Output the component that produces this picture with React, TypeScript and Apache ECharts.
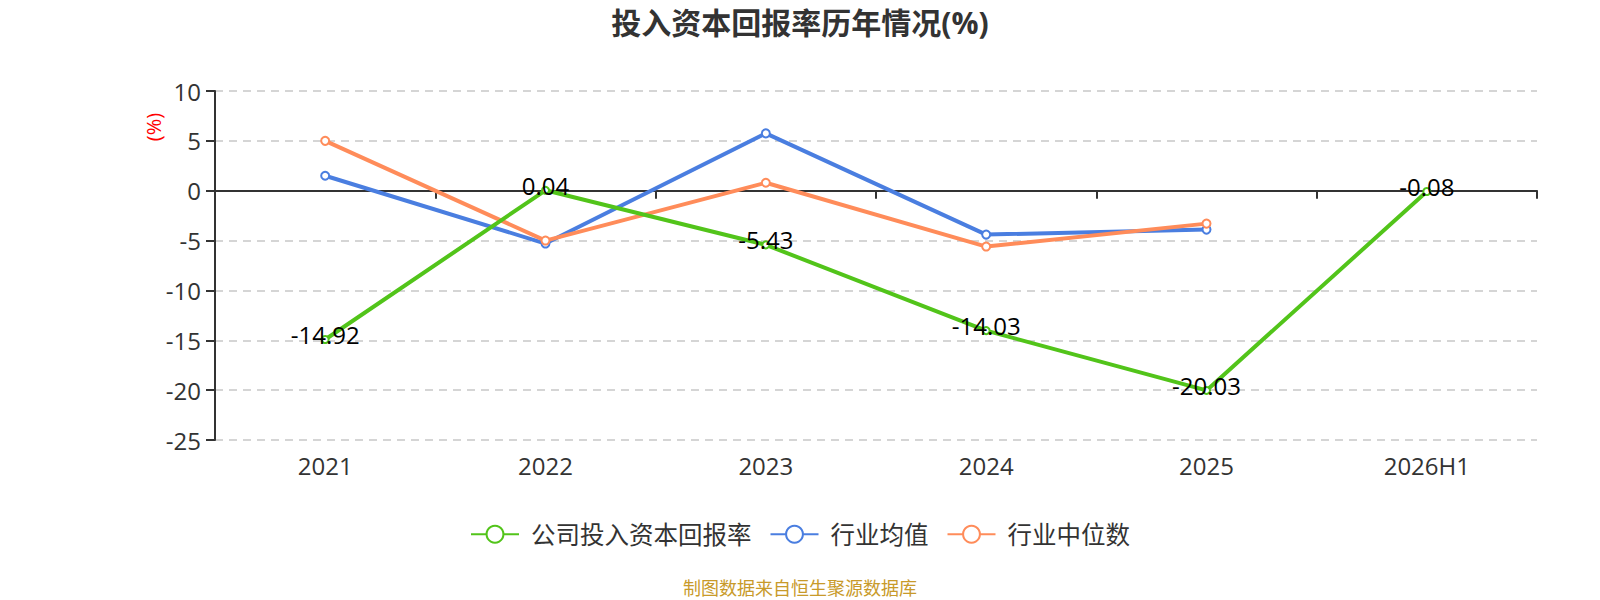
import React, { useEffect, useRef } from "react";
import * as echarts from "echarts";

const categories = ["2021", "2022", "2023", "2024", "2025", "2026H1"];
const companyValues = [-14.92, 0.04, -5.43, -14.03, -20.03, -0.08];
const industryAvg = [1.5, -5.3, 5.75, -4.4, -3.9, null];
const industryMedian = [5.0, -5.0, 0.8, -5.6, -3.3, null];
const seriesNames = ["公司投入资本回报率", "行业均值", "行业中位数"];
const titleText = "投入资本回报率历年情况(%)";
const footerText = "制图数据来自恒生聚源数据库";

const FONT = "'Open Sans', 'Noto Sans CJK SC', sans-serif";

export default function App() {
  const ref = useRef<HTMLDivElement>(null);
  useEffect(() => {
    if (!ref.current) return;
    document.body.style.margin = "0";
    const chart = echarts.init(ref.current, undefined, { renderer: "svg" });
    chart.setOption({
      animation: false,
      textStyle: { fontFamily: FONT },
      title: {
        text: titleText,
        left: "center",
        top: 2,
        textStyle: { fontSize: 30, fontWeight: "bold", color: "#333", fontFamily: FONT },
      },
      grid: { left: 215, right: 63, top: 91, bottom: 160 },
      legend: {
        top: 517,
        left: "center",
        itemWidth: 48,
        itemHeight: 21,
        itemGap: 18,
        textStyle: { fontSize: 24.5, color: "#333", fontFamily: FONT, padding: [0, 0, 0, 7] },
        data: seriesNames,
      },
      graphic: [
        {
          type: "text",
          left: "center",
          top: 579,
          style: { text: footerText, fill: "#c89a2a", font: `18px ${FONT}` },
        },
        {
          type: "text",
          x: 153,
          y: 127,
          rotation: Math.PI / 2,
          style: {
            text: "(%)",
            fill: "#ff0000",
            font: `20px ${FONT}`,
            align: "center",
            verticalAlign: "middle",
          },
        },
      ],
      xAxis: [
        {
          type: "category",
          data: categories,
          position: "bottom",
          axisLine: { onZero: true, lineStyle: { color: "#333", width: 2 } },
          axisTick: { show: true, length: 8, lineStyle: { color: "#333", width: 2 } },
          axisLabel: { show: false },
        },
        {
          type: "category",
          data: categories,
          position: "bottom",
          axisLine: { show: false, onZero: false },
          axisTick: { show: false },
          axisLabel: { fontSize: 24, color: "#333", margin: 13, fontFamily: FONT },
        },
      ],
      yAxis: {
        type: "value",
        min: -25,
        max: 10,
        interval: 5,
        axisLine: { show: true, lineStyle: { color: "#333", width: 2 } },
        axisTick: { show: true, length: 9, lineStyle: { color: "#333", width: 2 } },
        axisLabel: { fontSize: 24, color: "#333", margin: 14, fontFamily: FONT },
        splitLine: { show: true, lineStyle: { type: [8, 6], color: "#c8c8c8", width: 1.5 } },
      },
      series: [
        {
          name: seriesNames[0],
          type: "line",
          data: companyValues,
          color: "#52c41a",
          lineStyle: { width: 4 },
          symbol: "emptyCircle",
          symbolSize: 7,
          label: {
            show: true,
            position: "inside",
            offset: [0, -5],
            fontSize: 24,
            color: "#000",
            fontFamily: FONT,
          },
          z: 3,
        },
        {
          name: seriesNames[1],
          type: "line",
          data: industryAvg,
          color: "#4a7ee0",
          lineStyle: { width: 4 },
          symbol: "emptyCircle",
          symbolSize: 8,
          z: 2,
        },
        {
          name: seriesNames[2],
          type: "line",
          data: industryMedian,
          color: "#ff8c5a",
          lineStyle: { width: 4 },
          symbol: "emptyCircle",
          symbolSize: 8,
          z: 2,
        },
      ],
    });
    return () => chart.dispose();
  }, []);
  return (
    <div
      ref={ref}
      style={{ position: "absolute", left: 0, top: 0, width: 1600, height: 600 }}
    />
  );
}
